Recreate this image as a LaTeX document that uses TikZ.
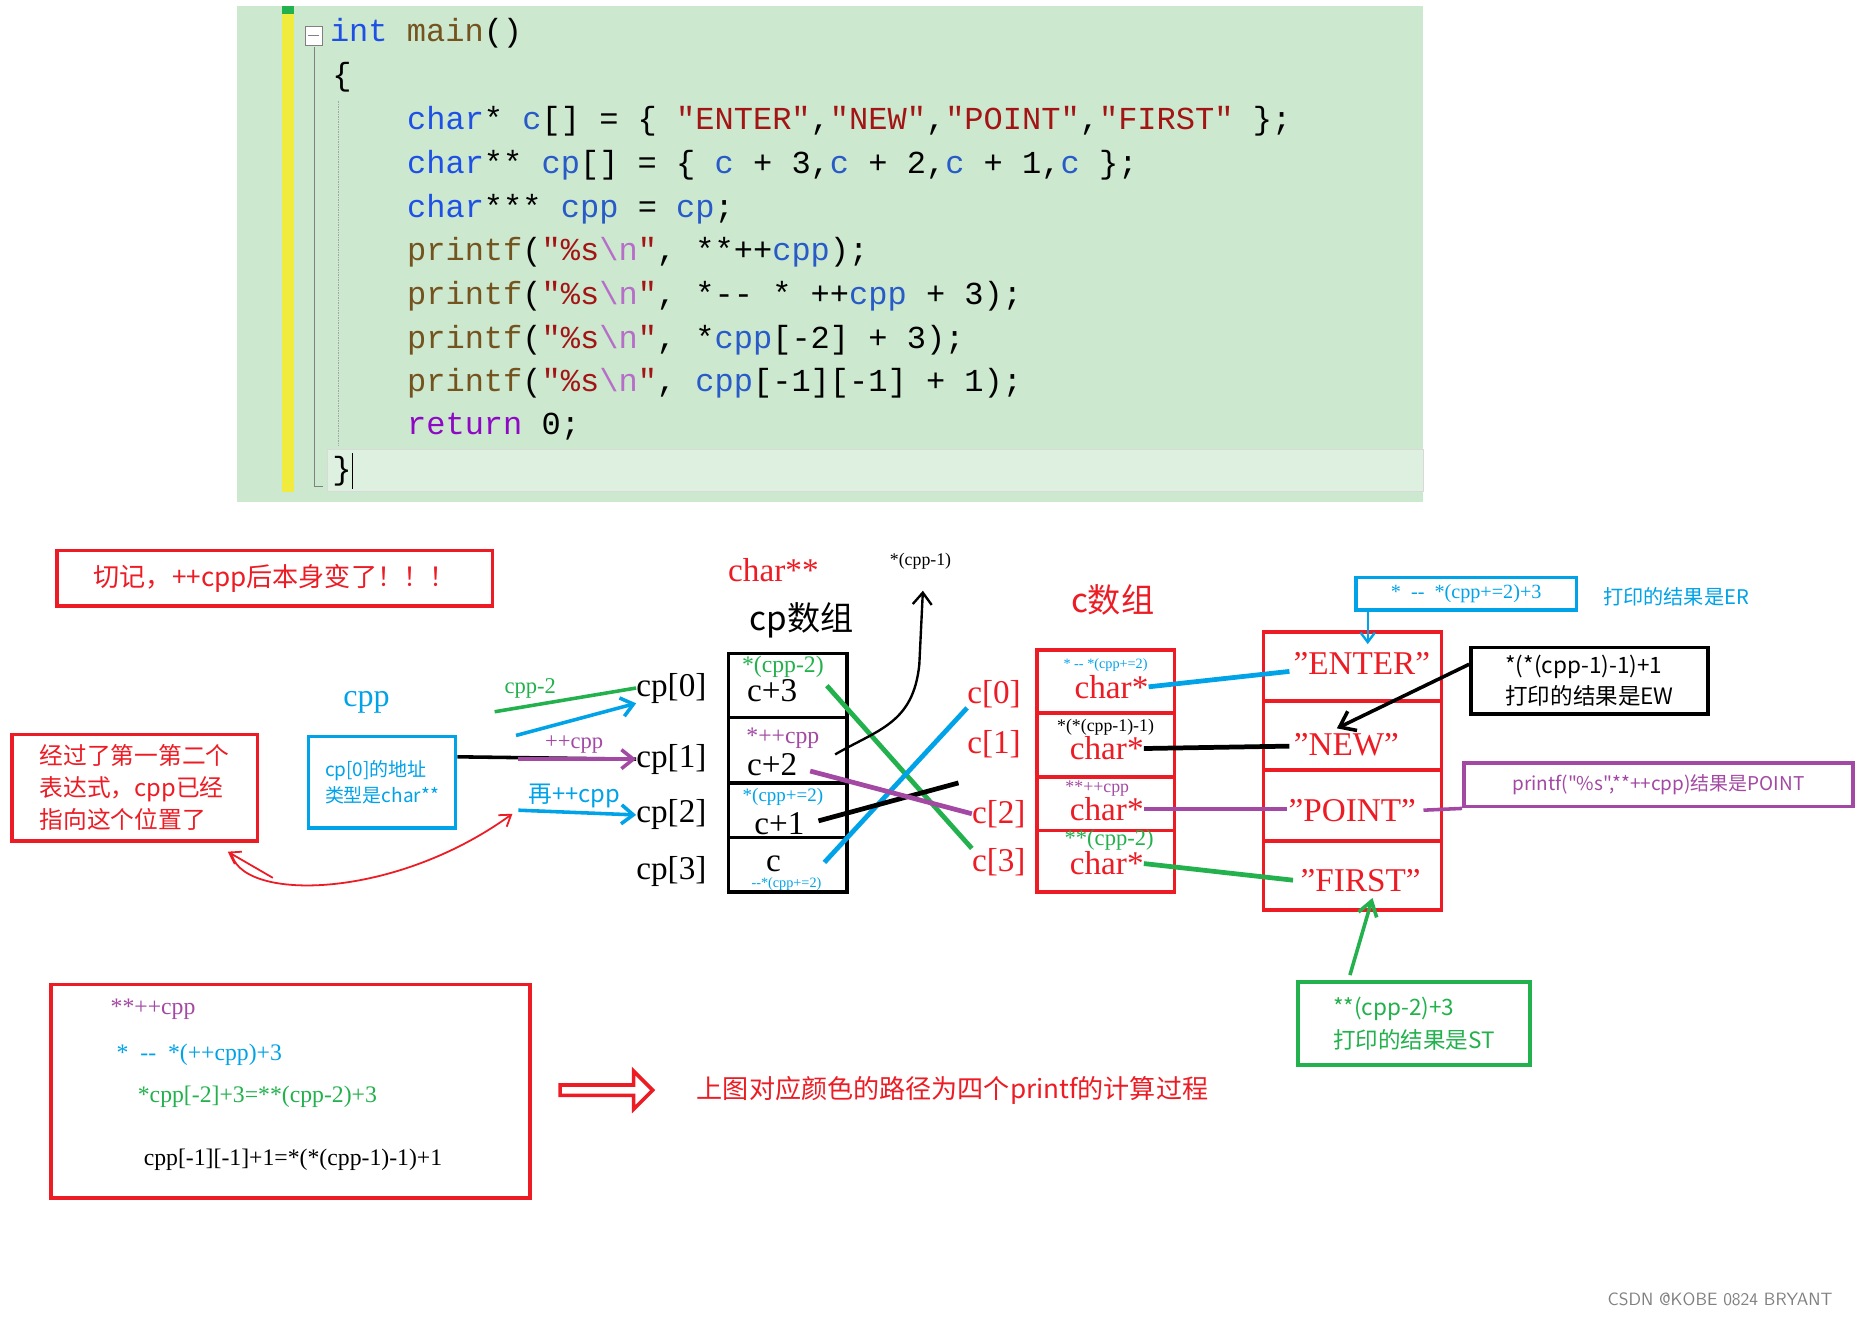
\documentclass[tikz,border=0pt]{standalone}
\usepackage{fontspec}
\setmainfont{Liberation Serif}
\newfontfamily\cjk{Noto Sans CJK SC}
\newfontfamily\mono{Liberation Mono}
\usetikzlibrary{arrows.meta,shapes.arrows}
\definecolor{bg}{RGB}{204,232,207}
\definecolor{bgl}{RGB}{222,240,224}
\definecolor{yelbar}{RGB}{240,235,60}
\definecolor{kw}{RGB}{30,80,230}
\definecolor{vr}{RGB}{40,90,200}
\definecolor{st}{RGB}{163,21,21}
\definecolor{fn}{RGB}{116,83,31}
\definecolor{es}{RGB}{183,110,200}
\definecolor{rt}{RGB}{143,8,196}
\definecolor{rd}{RGB}{237,28,36}
\definecolor{bl}{RGB}{0,162,232}
\definecolor{gr}{RGB}{34,177,76}
\definecolor{pu}{RGB}{163,73,164}
\newcommand\kwc[1]{\textcolor{kw}{#1}}
\newcommand\vrc[1]{\textcolor{vr}{#1}}
\newcommand\stc[1]{\textcolor{st}{#1}}
\newcommand\fnc[1]{\textcolor{fn}{#1}}
\newcommand\pf{\fnc{printf}(\stc{"\%s}\textcolor{es}{\textbackslash n}\stc{"}, }
\begin{document}
\begin{tikzpicture}[x=1pt,y=-1pt,
  code/.style={anchor=west,inner sep=0,font=\mono\fontsize{27}{27}\selectfont},
  box/.style={draw,line width=3pt},
  ln/.style={line width=4pt},
  arr/.style={line width=3pt,-{Straight Barb[length=10pt,width=16pt]}},
  t/.style={inner sep=0},
  cellt/.style={inner sep=0,font=\fontsize{28}{28}\selectfont},
  small/.style={inner sep=0,font=\fontsize{15}{15}\selectfont},
  zh/.style={inner sep=0,font=\cjk\fontsize{20}{24}\selectfont,align=left}]
\useasboundingbox (0,0) rectangle (1568,1110);
\fill[white] (0,0) rectangle (1568,1110);
% code panel
\fill[bg] (200,5) rectangle (1200,423);
\fill[bgl,draw=white!85!black] (276,379) rectangle (1200,414);
\fill[yelbar] (238,5) rectangle (248,415);
\fill[gr] (238,5) rectangle (248,12);
\draw[gray,fill=white] (257,22) rectangle (272,38);
\draw[gray,line width=1.2pt] (260,30) -- (269,30);
\draw[gray] (265,40) -- (265,410) -- (272,410);
\draw[gray!70,densely dotted] (285,85) -- (285,375);
\node[code] (l1) at (278,28) {\kwc{int} \fnc{main}()};
\node[code] (l2) at (280,65) {\{};
\node[code] (l3) at (343,102) {\kwc{char}* \vrc{c}[] = \{ \stc{"ENTER"},\stc{"NEW"},\stc{"POINT"},\stc{"FIRST"} \};};
\node[code] (l4) at (343,139) {\kwc{char}** \vrc{cp}[] = \{ \vrc{c} + 3,\vrc{c} + 2,\vrc{c} + 1,\vrc{c} \};};
\node[code] (l5) at (343,176) {\kwc{char}*** \vrc{cpp} = \vrc{cp};};
\node[code] (l6) at (343,213) {\pf**++\vrc{cpp});};
\node[code] (l7) at (343,250) {\pf*-{}- * ++\vrc{cpp} + 3);};
\node[code] (l8) at (343,287) {\pf*\vrc{cpp}[-2] + 3);};
\node[code] (l9) at (343,323) {\pf\vrc{cpp}[-1][-1] + 1);};
\node[code] (l10) at (343,360) {\textcolor{rt}{return} 0;};
\node[code] (l11) at (280,397) {\}};
\draw[line width=1.2pt] (297,382) -- (297,412);
% notes
\node[box,rd,minimum width=367,minimum height=47,zh,text=rd,font=\cjk\fontsize{22}{24}\selectfont] (remember) at (231.5,487.5) {切记，++cpp后本身变了！！！};
\node[t,rd,font=\fontsize{28}{28}\selectfont] (cpptype) at (652,481) {char**};
\node[t,font=\fontsize{15}{15}\selectfont] (cppm1) at (776,473) {*(cpp-1)};
\node[t,font=\cjk\fontsize{28}{28}\selectfont] (cptitle) at (676,523) {cp数组};
\node[t,rd,font=\cjk\fontsize{28}{28}\selectfont] (ctitle) at (938,506) {c数组};
\node[t,bl,font=\fontsize{27}{27}\selectfont] (cpplab) at (309,592) {cpp};
\node[box,bl,minimum width=124,minimum height=77,zh,text=bl,font=\cjk\fontsize{16}{22}\selectfont] (cppbox) at (322,659.5) {cp[0]的地址\\类型是char**};
\node[box,rd,minimum width=207,minimum height=90,zh,text=rd,font=\cjk\fontsize{20}{27}\selectfont] (note) at (113.5,664) {经过了第一第二个\\表达式，cpp已经\\指向这个位置了};
% cp array
\foreach \n/\ya/\yb in {0/551/605,1/605/660,2/660/706,3/706/752}
  \draw[box,black] (614,\ya) rectangle (714,\yb);
\node[cellt] (cp0) at (566,580) {cp[0]};
\node[cellt] (cp1) at (566,640) {cp[1]};
\node[cellt] (cp2) at (566,687) {cp[2]};
\node[cellt] (cp3) at (566,735) {cp[3]};
\node[cellt] (v0) at (651,582) {c+3};
\node[cellt] (v1) at (651,645) {c+2};
\node[cellt] (v2) at (657,694) {c+1};
\node[cellt] (v3) at (652,728) {c};
\node[t,gr,font=\fontsize{20}{20}\selectfont] (a0) at (660,562) {*(cpp-2)};
\node[t,pu,font=\fontsize{20}{20}\selectfont] (a1) at (660,622) {*++cpp};
\node[t,bl,font=\fontsize{16}{16}\selectfont] (a2) at (660,672) {*(cpp+=2)};
\node[t,bl,font=\fontsize{12}{12}\selectfont] (a3) at (663,745) {-{}-*(cpp+=2)};
% c array
\node[t,rd,cellt] (c0) at (838,585) {c[0]};
\node[t,rd,cellt] (c1) at (838,627) {c[1]};
\node[t,rd,cellt] (c2) at (842,686) {c[2]};
\node[t,rd,cellt] (c3) at (842,727) {c[3]};
\foreach \ya/\yb in {548/601,601/655,655/700,700/752}
  \draw[box,rd] (874,\ya) rectangle (990,\yb);
\node[cellt,rd] (p0) at (937,579) {char*};
\node[cellt,rd] (p1) at (933,631) {char*};
\node[cellt,rd] (p2) at (933,682) {char*};
\node[cellt,rd] (p3) at (933,728) {char*};
\node[small,bl,font=\fontsize{12}{12}\selectfont] (b0) at (932,561) {*~-{}-~*(cpp+=2)};
\node[small] (b1) at (932,613) {*(*(cpp-1)-1)};
\node[small,pu] (b2) at (925,665) {**++cpp};
\node[small,gr,font=\fontsize{19}{19}\selectfont] (b3) at (935,708) {**(cpp-2)};
% strings
\foreach \ya/\yb in {533/591,591/649,649/709,709/767}
  \draw[box,rd] (1065,\ya) rectangle (1215,\yb);
\node[cellt,rd] (s0) at (1148,559) {"ENTER"};
\node[cellt,rd] (s1) at (1135,628) {"NEW"};
\node[cellt,rd] (s2) at (1140,683) {"POINT"};
\node[cellt,rd] (s3) at (1147,742) {"FIRST"};
% result boxes
\node[box,bl,minimum width=186,minimum height=27,t,text=bl,font=\fontsize{17}{17}\selectfont] (rb) at (1236,500.5) {*~~-{}-~~*(cpp+=2)+3};
\node[t,bl,font=\cjk\fontsize{17}{17}\selectfont] (rbt) at (1413,503) {打印的结果是ER};
\node[box,black,minimum width=200,minimum height=56,zh,font=\cjk\fontsize{19}{26}\selectfont] (rk) at (1340,574) {*(*(cpp-1)-1)+1\\打印的结果是EW};
\node[box,pu,minimum width=328,minimum height=37,t,text=pu,font=\cjk\fontsize{16}{16}\selectfont] (rp) at (1398,661.5) {printf("\%s",**++cpp)结果是POINT};
\node[box,gr,minimum width=196,minimum height=70,zh,text=gr,font=\cjk\fontsize{19}{28}\selectfont] (rg) at (1192,863) {**(cpp-2)+3\\打印的结果是ST};
% bottom summary
\draw[box,rd] (43,830) rectangle (447,1010);
\node[t,pu,font=\fontsize{20}{20}\selectfont] (e1) at (129,851) {**++cpp};
\node[t,bl,font=\fontsize{20}{20}\selectfont] (e2) at (168,889) {*~~-{}-~~*(++cpp)+3};
\node[t,gr,font=\fontsize{20}{20}\selectfont] (e3) at (217,925) {*cpp[-2]+3=**(cpp-2)+3};
\node[t,font=\fontsize{20}{20}\selectfont] (e4) at (247,978) {cpp[-1][-1]+1=*(*(cpp-1)-1)+1};
\node[single arrow,draw=rd,line width=3pt,minimum height=78,minimum width=32,single arrow head extend=4pt,inner sep=0] (bigarr) at (509,919) {};
\node[t,rd,font=\cjk\fontsize{22}{22}\selectfont] (caption) at (803,919) {上图对应颜色的路径为四个printf的计算过程};
\node[t,gray,font=\fontsize{15}{15}\selectfont\sffamily] (wm) at (1450,1095) {CSDN @KOBE 0824 BRYANT};
% connectors left of cp
\coordinate (g1) at (417,600); \coordinate (bs) at (435,620);
\coordinate (ks) at (384,638); \coordinate (ps) at (437,640);
\coordinate (b2s) at (437,683);
\draw[gr,line width=3pt] (g1) -- (cp0.west);
\draw[bl,arr] (bs) -- (cp0.south west);
\draw[line width=3pt] (cppbox.east |- ks) -- (cp1.west);
\draw[pu,arr] (ps) -- (cp1.west);
\draw[bl,arr] (b2s) -- (cp2.west);
\node[t,gr,font=\fontsize{19}{19}\selectfont] (lg) at (447,580) {cpp-2};
\node[t,pu,font=\fontsize{19}{19}\selectfont] (lp) at (484,628) {++cpp};
\node[t,bl,font=\cjk\fontsize{20}{20}\selectfont] (lb) at (484,671) {再++cpp};
\draw[rd,line width=1.5pt,-{Straight Barb[length=9pt,width=12pt]}] (195,718) .. controls (200,760) and (330,760) .. (432,686);
\draw[rd,line width=1.5pt,-{Straight Barb[length=9pt,width=12pt]}] (230,740) -- (192,718);
% crossings
\draw[gr,ln] (697,578) -- (c3.north west);
\draw[bl,ln] (695,727) -- (c0.south west);
\draw[ln] (690,692) -- (808,660);
\draw[pu,ln] (683,650) -- (c2.west);
\draw[line width=2pt,-{Straight Barb[length=10pt,width=16pt]}] (704,636) .. controls (740,615) and (770,610) .. (775,560) -- (778,498);
% c-array to strings
\draw[bl,ln] (p0.east) -- (1087,566);
\draw[ln] (p1.east) -- (1087,629);
\draw[pu,ln] (p2.east) -- (1085,682);
\draw[gr,ln] (p3.east) -- (1090,742);
\draw[bl,line width=2pt,-{Straight Barb[length=8pt,width=12pt]}] (rb.south west -| 1153,514) -- (1153,543);
\draw[line width=3pt,-{Straight Barb[length=12pt,width=18pt]}] (rk.west |- 1238,560) -- (1127,614);
\draw[pu,line width=3pt] (rp.south west) -- (1200,683);
\draw[gr,line width=3pt,-{Straight Barb[length=12pt,width=16pt]}] (1138,822) -- (1157,757);
\end{tikzpicture}
\end{document}
